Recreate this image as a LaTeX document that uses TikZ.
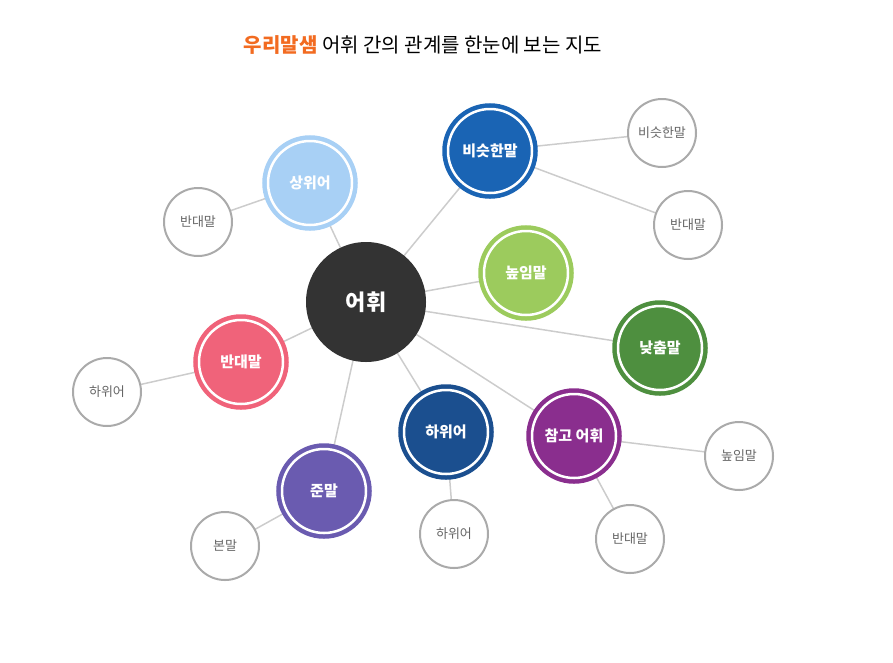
\documentclass[tikz,border=0pt]{standalone}
\usepackage{fontspec}
\setmainfont{Noto Sans CJK KR}
\usetikzlibrary{backgrounds}
\definecolor{cDark}{HTML}{333333}
\definecolor{cSky}{HTML}{A8D0F5}
\definecolor{cBlue}{HTML}{1A64B4}
\definecolor{cLime}{HTML}{9CCB5D}
\definecolor{cGreen}{HTML}{4E8F3F}
\definecolor{cRed}{HTML}{F0637A}
\definecolor{cNavy}{HTML}{1B4F8F}
\definecolor{cPurple}{HTML}{8A2E8E}
\definecolor{cViolet}{HTML}{6A5BB0}
\definecolor{cOrange}{HTML}{F26B21}
\definecolor{cEdge}{HTML}{CCCCCC}
\definecolor{cGray}{HTML}{AAAAAA}
\definecolor{cTxt}{HTML}{666666}
\tikzset{
  hub/.style={circle,fill=cDark,minimum size=120pt,inner sep=0pt,text=white,font=\fontsize{22}{24}\selectfont\bfseries},
  cat/.style={circle,fill=#1,draw=#1,double=white,double distance=2.5pt,line width=4.5pt,minimum size=84pt,inner sep=0pt,text=white,font=\fontsize{15}{17}\selectfont\bfseries},
  leaf/.style={circle,fill=white,draw=cGray,line width=2pt,minimum size=68pt,inner sep=0pt,text=cTxt,font=\fontsize{13}{15}\selectfont},
  link/.style={draw=cEdge,line width=1.5pt}
}
\begin{document}
\begin{tikzpicture}[x=1pt,y=-1pt]
\useasboundingbox (0,0) rectangle (893,662);
\node (title) at (423,45) {\fontsize{20}{22}\selectfont{\color{cOrange}\bfseries 우리말샘} 어휘 간의 관계를 한눈에 보는 지도};
\node[hub] (hub) at (366,302) {어휘};
\node[cat=cSky] (sang) at (310,183) {상위어};
\node[cat=cBlue] (bis) at (490,151) {비슷한말};
\node[cat=cLime] (nop) at (526,273) {높임말};
\node[cat=cGreen] (nat) at (660,348) {낮춤말};
\node[cat=cRed] (ban) at (241,362) {반대말};
\node[cat=cNavy] (hawi) at (446,432) {하위어};
\node[cat=cPurple] (cham) at (574,436) {참고 어휘};
\node[cat=cViolet] (jun) at (324,491) {준말};
\node[leaf] (l1) at (198,222) {반대말};
\node[leaf] (l2) at (662,133) {비슷한말};
\node[leaf] (l3) at (688,225) {반대말};
\node[leaf] (l4) at (107,392) {하위어};
\node[leaf] (l5) at (739,456) {높임말};
\node[leaf] (l6) at (630,539) {반대말};
\node[leaf] (l7) at (454,534) {하위어};
\node[leaf] (l8) at (225,546) {본말};
\begin{scope}[on background layer]
\foreach \t in {sang,bis,nop,nat,ban,hawi,cham,jun} \draw[link] (hub.center) -- (\t.center);
\draw[link] (sang.center) -- (l1.center);
\draw[link] (bis.center) -- (l2.center);
\draw[link] (bis.center) -- (l3.center);
\draw[link] (ban.center) -- (l4.center);
\draw[link] (cham.center) -- (l5.center);
\draw[link] (cham.center) -- (l6.center);
\draw[link] (hawi.center) -- (l7.center);
\draw[link] (jun.center) -- (l8.center);
\end{scope}
\end{tikzpicture}
\end{document}
